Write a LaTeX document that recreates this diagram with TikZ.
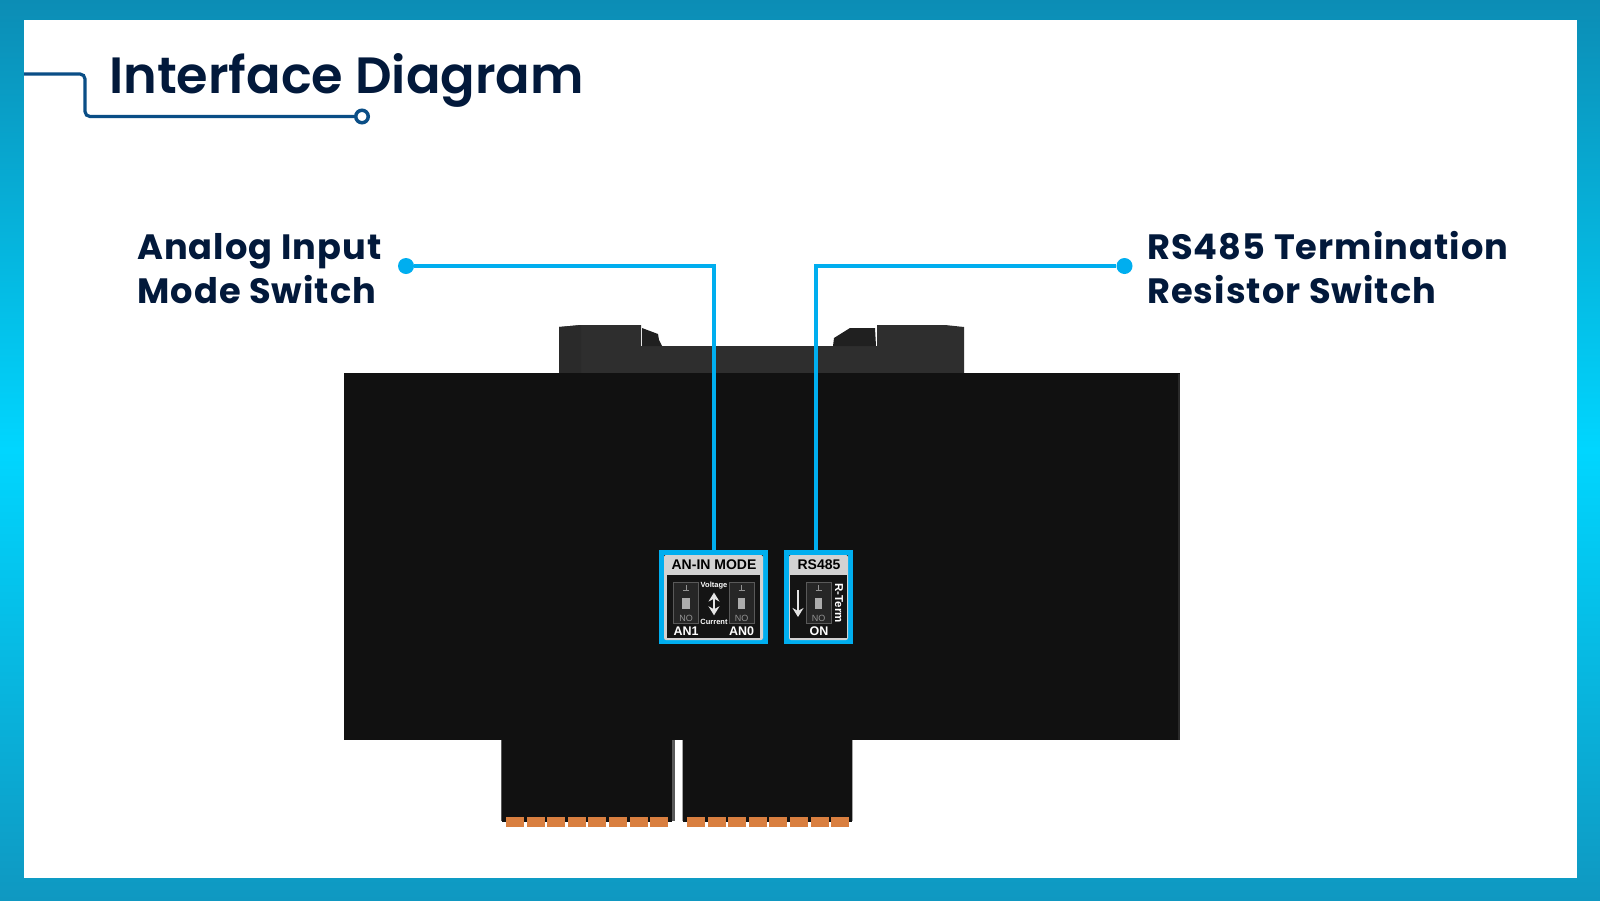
\documentclass[tikz,border=0pt]{standalone}
\usepackage{fontspec}
\setmainfont{Poppins}[BoldFont={Poppins SemiBold}]
\newfontfamily\boldfont{Poppins Bold}[LetterSpace=3]
\newfontfamily\plainfont{Liberation Sans}
\usetikzlibrary{arrows.meta}
\tikzset{>={Stealth[length=9pt,width=11pt]}}
\definecolor{navy}{HTML}{02193B}
\definecolor{pathblue}{HTML}{0A4E86}
\definecolor{leadblue}{HTML}{00AEEF}
\definecolor{bodyblack}{HTML}{111111}
\definecolor{railgray}{HTML}{2E2E2E}
\definecolor{railside}{HTML}{2A2A2A}
\definecolor{clipgray}{HTML}{202020}
\definecolor{pinorange}{HTML}{D97F40}
\definecolor{frametop}{HTML}{0C8DB5}
\definecolor{framemid}{HTML}{00D6FF}
\definecolor{framebot}{HTML}{0F98C1}
\tikzset{
    leadline/.style={leadblue, line width=4pt},
    leaddot/.style={circle, fill=leadblue, minimum size=16pt, inner sep=0pt},
    calloutlabel/.style={anchor=north west, align=left, inner sep=0pt, text=navy, font=\boldfont\fontsize{35.2}{44}\selectfont, execute at begin node=\strut},
    swbox/.style={draw=leadblue, line width=5pt, fill=bodyblack, inner sep=0pt},
    swhead/.style={font=\plainfont\bfseries\fontsize{14}{14}\selectfont, text=black},
    swname/.style={font=\plainfont\bfseries\fontsize{12.5}{13}\selectfont, text=white},
    swsmall/.style={font=\plainfont\bfseries\fontsize{7.5}{8}\selectfont, text=white},
    swbody/.style={draw=gray!70!black, line width=0.7pt, fill=black!85, minimum width=25pt, minimum height=41pt, inner sep=0pt},
    swthumb/.style={fill=gray!65, minimum width=7.5pt, minimum height=11pt, inner sep=0pt},
    swno/.style={font=\plainfont\fontsize{9}{9}\selectfont, text=gray!85, inner sep=0pt},
    whitearrow/.style={white!90!black, line width=2.4pt}
}

\begin{document}
\begin{tikzpicture}[x=1pt, y=-1pt]
    \useasboundingbox (0,0) rectangle (1600,900);
    % frame
    \shade[top color=frametop, bottom color=framebot, middle color=framemid] (0,0) rectangle (1600,900);
    \fill[white] (24,20) rectangle (1577,878);

    % title
    \node[anchor=base west, inner sep=0pt, text=navy, font=\bfseries\fontsize{51}{51}\selectfont] (title) at (109,93.5) {Interface Diagram};
    \node[circle, draw=pathblue, fill=white, line width=3.5pt, minimum size=12.5pt, inner sep=0pt] (titledot) at (362,116.5) {};
    \coordinate (titlestart) at (24,74);
    \draw[pathblue, line width=3.2pt, rounded corners=5pt] (titlestart) -- (85,74) -- (85,116.5) -- (titledot);

    % rail on top
    \fill[railgray] (559,373) -- (559,327) -- (581,325) -- (641,325) -- (641,346) -- (877,346) -- (877,325) -- (945,325) -- (964,327) -- (964,373) -- cycle;
    \fill[railside] (559,373) -- (559,327) -- (581,325) -- (581,373) -- cycle;
    \fill[clipgray] (642,328) -- (658,334) -- (659,340) -- (662,346) -- (642,346) -- cycle;
    \fill[clipgray] (833,346) -- (834,338) -- (850,328) -- (875,328) -- (876,346) -- cycle;

    % connectors
    \fill[gray!70!black] (501,740) rectangle (675,821);
    \fill[gray!70] (682,740) rectangle (853,821);
    \fill[bodyblack] (502,740) rectangle (672,822);
    \fill[bodyblack] (683,740) rectangle (852,822);
    \foreach \i in {0,...,7} {
        \fill[pinorange] (506+20.6*\i,817) rectangle ++(18,10);
        \fill[pinorange] (687+20.6*\i,817) rectangle ++(18,10);
    }

    % body
    \fill[bodyblack] (344,373) rectangle (1180,740);
    \fill[railside] (1178,374) rectangle (1180,740);

    % switch boxes
    \node[swbox, minimum width=104pt, minimum height=89pt] (anbox) at (713.5,597) {};
    \node[swbox, minimum width=64pt, minimum height=89pt] (rsbox) at (818.5,597) {};

    \fill[gray!35, rounded corners=2pt] (664,555) rectangle (763,640);
    \fill[black!92] (667,575) rectangle (760,638);
    \fill[gray!35, rounded corners=2pt] (789,555) rectangle (848,640);
    \fill[black!92] (790,575) rectangle (847,638);

    \node[swhead] (anhead) at (714,564.5) {AN-IN MODE};
    \node[swhead] (rshead) at (819,564.5) {RS485};

    \foreach \swx/\swid in {686/swa,741.5/swb,818.5/swc} {
        \node[swbody] (\swid) at (\swx,602.5) {};
        \node[swthumb] at (\swx,603.5) {};
        \node[swno] at (\swx,618) {NO};
        \draw[gray!85, line width=0.6pt] (\swx,585) -- (\swx,590) (\swx-3,590) -- (\swx+3,590);
    }

    \node[swsmall] (voltage) at (714,585.5) {Voltage};
    \node[swsmall] (current) at (714,621.5) {Current};
    \draw[whitearrow, <->] (voltage) -- (current);
    \node[swname] (anone) at (686,631) {AN1};
    \node[swname] (anzero) at (741.5,631) {AN0};
    \node[swname] (rson) at (819,631) {ON};
    \node[swname, rotate=-90, font=\plainfont\bfseries\fontsize{11.5}{12}\selectfont] (rsterm) at (839,603) {R-Term};
    \coordinate (arrowtop) at (798,590);
    \coordinate (arrowend) at (798,617);
    \draw[whitearrow, ->] (arrowtop) -- (arrowend);

    % callouts
    \node[calloutlabel] (anlabel) at (137,233) {Analog Input\\Mode Switch};
    \node[calloutlabel] (rslabel) at (1147,231) {RS485 Termination\\Resistor Switch};
    \node[leaddot] (andot) at (406,266) {};
    \node[leaddot] (rsdot) at (1124.5,266) {};
    \draw[leadline] (andot) -| (anbox.north);
    \draw[leadline] (rsdot) -| ([xshift=-2.5pt]rsbox.north);
\end{tikzpicture}
\end{document}
